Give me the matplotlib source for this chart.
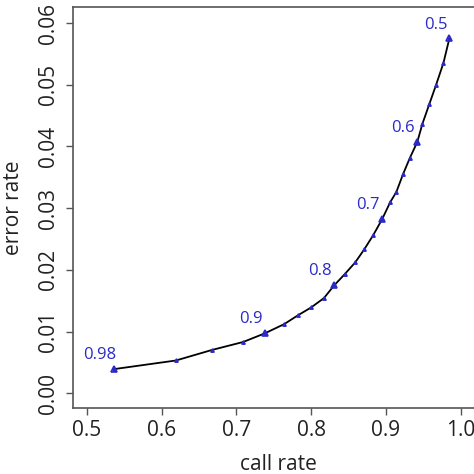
import matplotlib
matplotlib.use("Agg")
import matplotlib.pyplot as plt

plt.rcParams['font.family'] = ['Open Sans', 'DejaVu Sans']

call_rate = [0.536, 0.619, 0.667, 0.709, 0.738, 0.764, 0.782, 0.800, 0.817, 0.831,
             0.845, 0.859, 0.871, 0.883, 0.895, 0.906, 0.914, 0.923, 0.932, 0.942,
             0.949, 0.958, 0.967, 0.977, 0.985]
error_rate = [0.0039, 0.0053, 0.0070, 0.0083, 0.0097, 0.0112, 0.0126, 0.0139, 0.0154, 0.0175,
              0.0193, 0.0212, 0.0233, 0.0256, 0.0282, 0.0310, 0.0326, 0.0355, 0.0381, 0.0407,
              0.0437, 0.0468, 0.0499, 0.0535, 0.0575]
label_idx = [0, 4, 9, 14, 19, 24]
label_text = ["0.98", "0.9", "0.8", "0.7", "0.6", "0.5"]

x_ticks = [0.5, 0.6, 0.7, 0.8, 0.9, 1.0]
x_ticklabels = ["0.5", "0.6", "0.7", "0.8", "0.9", "1.0"]
y_ticks = [0.00, 0.01, 0.02, 0.03, 0.04, 0.05, 0.06]
y_ticklabels = ["0.00", "0.01", "0.02", "0.03", "0.04", "0.05", "0.06"]

fig = plt.figure(figsize=(4.74, 4.74), dpi=100)
ax = fig.add_axes([73/474, 66/474, 410/474, 401/474])

blue = '#2a2ac8'
ax.plot(call_rate, error_rate, color='black', lw=1.3, zorder=2)
ax.plot(call_rate, error_rate, ls='none', marker='^', ms=2.5, color=blue, zorder=3)
lx = [call_rate[i] for i in label_idx]
ly = [error_rate[i] for i in label_idx]
ax.plot(lx, ly, ls='none', marker='^', ms=4, color=blue, mfc='none', mew=1.2, zorder=3)
for i, t in zip(label_idx, label_text):
    ax.annotate(t, (call_rate[i], error_rate[i]), xytext=(-10, 10), textcoords='offset points',
                ha='center', va='center', color=blue, fontsize=12)

ax.set_xlim(0.4813, 1.03)
ax.set_ylim(-0.0024, 0.0626)
ax.set_xticks(x_ticks)
ax.set_xticklabels(x_ticklabels)
ax.set_yticks(y_ticks)
ax.set_yticklabels(y_ticklabels, rotation=90, va='center')
for s in ax.spines.values():
    s.set_color('#555555')
    s.set_linewidth(1.2)
ax.tick_params(axis='both', colors='#555555', labelcolor='#222222', labelsize=15,
               length=5, width=1.0)
ax.tick_params(axis='x', pad=4)
ax.tick_params(axis='y', pad=5)
ax.set_xlabel('call rate', fontsize=15, color='#222222', labelpad=9)
ax.set_ylabel('error rate', fontsize=15, color='#222222', labelpad=10)

fig.savefig('out.png', dpi=100)
